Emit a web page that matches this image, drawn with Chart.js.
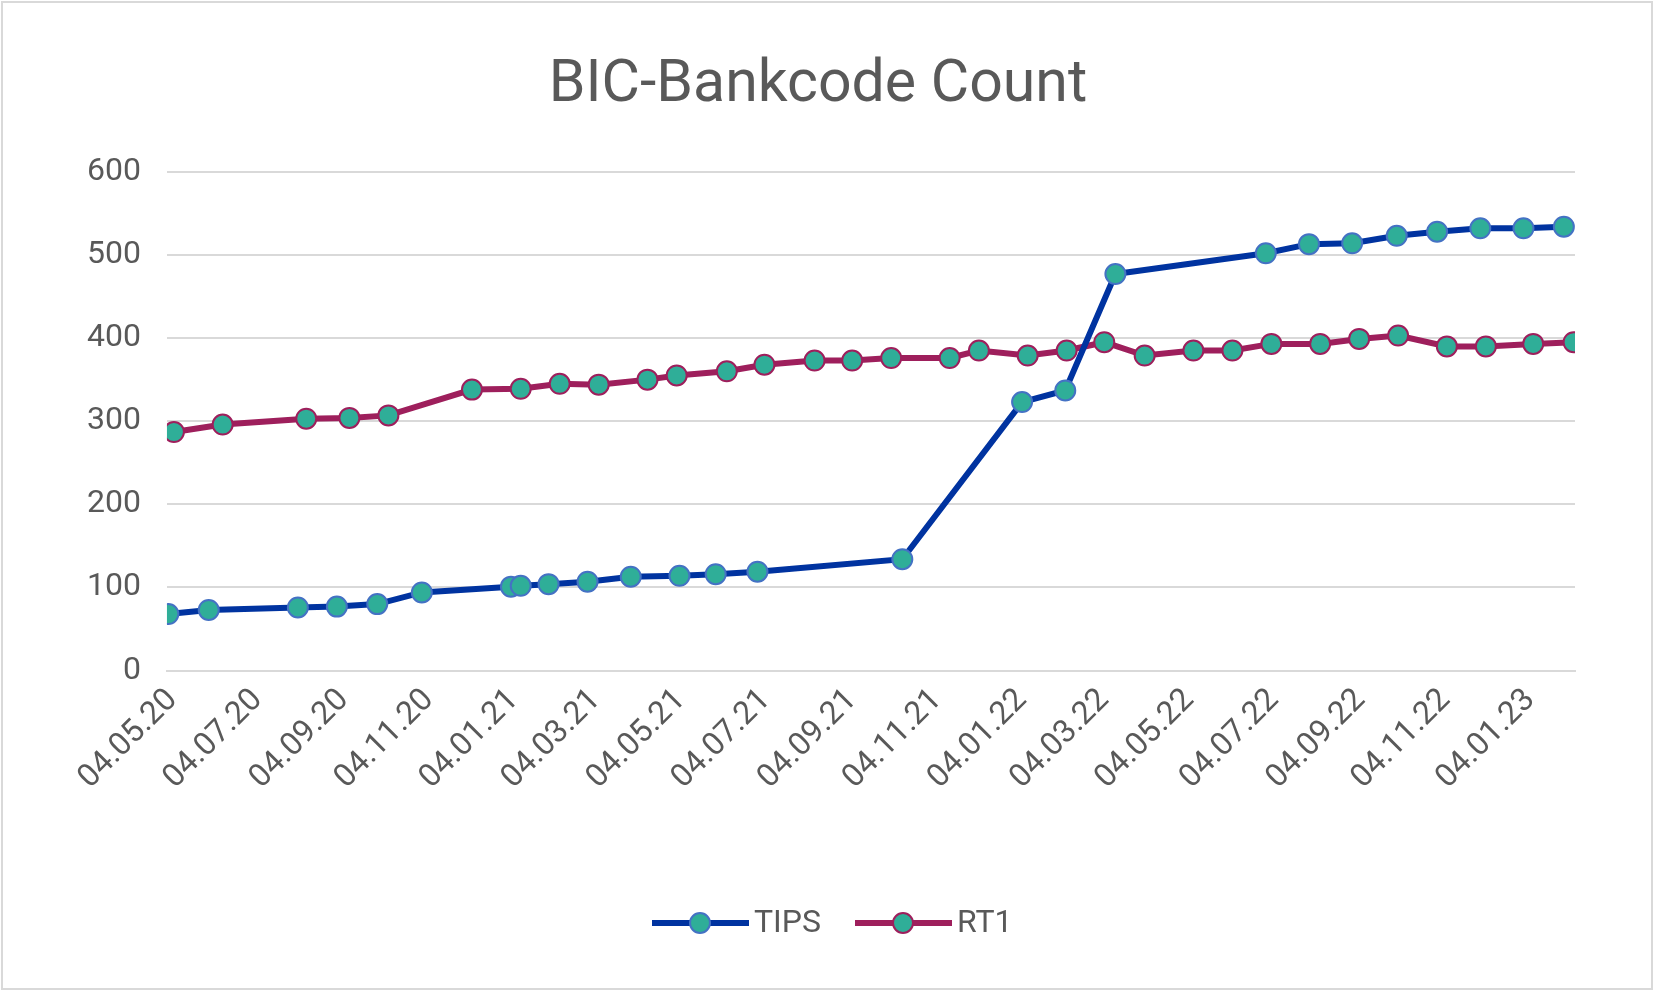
<!DOCTYPE html>
<html><head><meta charset="utf-8">
<script src="https://cdn.jsdelivr.net/npm/chart.js@4"></script>
<style>
html,body{margin:0;padding:0;background:#fff;}
#wrap{position:absolute;left:1px;top:1px;width:1648px;height:985px;border:2px solid #d9d9d9;}
</style></head><body>
<div id="wrap"><canvas id="c"></canvas></div>
<script>
// days since 04.05.2020
const tipsDays = [-3,26,90,118,147,179,243,250,270,298,329,364,390,420,524,610,641,677,785,816,847,879,908,939,970,999];
const tipsVals = [68,73,76,77,80,94,101,102,104,107,113,114,116,119,134,323,337,477,502,513,514,523,528,532,532,534];
const rt1Days = [1,36,96,127,155,215,250,278,306,341,362,398,425,461,488,516,558,579,614,642,669,698,733,761,789,824,852,880,915,943,977,1006];
const rt1Vals = [287,296,303,304,307,338,339,345,344,350,355,360,368,373,373,376,376,385,379,385,395,379,385,385,393,393,399,403,390,390,393,395];
const tickLabels = ['04.05.20','04.07.20','04.09.20','04.11.20','04.01.21','04.03.21','04.05.21','04.07.21','04.09.21','04.11.21','04.01.22','04.03.22','04.05.22','04.07.22','04.09.22','04.11.22','04.01.23'];
const base = Date.UTC(2020,4,4);
function labelDay(s){const p=s.split('.');return Math.round((Date.UTC(2000+ +p[2],+p[1]-1,+p[0])-base)/86400000);}
const tickDays = tickLabels.map(labelDay);
const labelMap = {}; tickDays.forEach((d,i)=>labelMap[d]=tickLabels[i]);

const cv=document.getElementById('c');
cv.style.width='1648px';cv.style.height='985px';
const legendPlugin={id:'lg',afterDraw(ch){
  const ctx=ch.ctx; const y=920; const items=[{x:649,ds:0,t:'TIPS'},{x:852,ds:1,t:'RT1'}];
  items.forEach(it=>{const ds=ch.data.datasets[it.ds];
    ctx.save();ctx.strokeStyle=ds.borderColor;ctx.lineWidth=6;ctx.beginPath();ctx.moveTo(it.x,y);ctx.lineTo(it.x+97,y);ctx.stroke();
    ctx.fillStyle=ds.pointBackgroundColor;ctx.strokeStyle=ds.pointBorderColor;ctx.lineWidth=2;ctx.beginPath();ctx.arc(it.x+48,y,10,0,Math.PI*2);ctx.fill();ctx.stroke();
    ctx.fillStyle='#595959';ctx.font='32px Roboto';ctx.textBaseline='middle';ctx.fillText(it.t,it.x+102,y+1);ctx.restore();});
}};
new Chart(cv,{type:'scatter',
 data:{datasets:[
  {label:'TIPS',data:tipsDays.map((d,i)=>({x:d,y:tipsVals[i]})),showLine:true,borderColor:'#0033a0',borderWidth:6,pointBackgroundColor:'#2fae98',pointBorderColor:'#4472c4',pointBorderWidth:2,pointRadius:10,pointHoverRadius:10},
  {label:'RT1',data:rt1Days.map((d,i)=>({x:d,y:rt1Vals[i]})),showLine:true,borderColor:'#9e1f5c',borderWidth:6,pointBackgroundColor:'#2fae98',pointBorderColor:'#9e1f5c',pointBorderWidth:2,pointRadius:10,pointHoverRadius:10}
 ]},
 options:{responsive:false,animation:false,
  layout:{padding:{left:58,right:76,top:18,bottom:188}},
  plugins:{legend:{display:false},tooltip:{enabled:false},
   title:{display:true,text:'BIC-Bankcode Count',color:'#595959',font:{size:59,family:'Roboto',weight:'normal'},padding:{top:30,bottom:50}}},
  scales:{
   x:{type:'linear',min:-4,max:1007,grid:{display:false},border:{color:'#d9d9d9',width:2},
    afterBuildTicks(ax){ax.ticks=tickDays.map(v=>({value:v}));},
    ticks:{autoSkip:false,maxRotation:45,minRotation:45,color:'#595959',font:{size:32,family:'Roboto'},callback:v=>labelMap[v]||''}},
   y:{min:0,max:600,grid:{color:'#d9d9d9',lineWidth:2,drawTicks:false},border:{display:false},
    ticks:{stepSize:100,color:'#595959',font:{size:32,family:'Roboto'},padding:26}}
  }}
 ,plugins:[legendPlugin]});
</script></body></html>
